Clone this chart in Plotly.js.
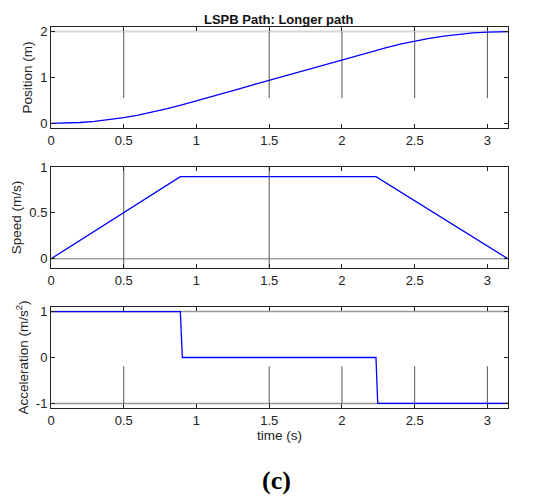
<!DOCTYPE html>
<html>
<head>
<meta charset="utf-8">
<script src="https://cdn.plot.ly/plotly-3.0.1.min.js"></script>
<style>html,body{margin:0;padding:0;background:#fff;}#chart{width:550px;height:498px;}</style>
</head>
<body>
<div id="chart"></div>
<script>
// Time samples (s) and position (m)
const timePos = [0,0.1,0.2,0.3,0.4,0.5,0.6,0.7,0.8,0.9,1.0,1.1,1.2,1.3,1.4,1.5,1.6,1.7,1.8,1.9,2.0,2.1,2.2,2.3,2.4,2.5,2.6,2.7,2.8,2.9,3.0,3.1,3.1416];
const position = [0,0.005,0.02,0.045,0.08,0.125,0.18,0.245,0.32,0.405,0.49,0.58,0.67,0.76,0.85,0.94,1.03,1.11,1.2,1.29,1.38,1.47,1.56,1.646,1.725,1.794,1.853,1.902,1.941,1.97,1.99,1.998,2.0];
// Speed (m/s)
const timeSpeed = [0,0.889,2.234,3.1416];
const speed = [0,0.895,0.895,0];
// Acceleration (m/s^2)
const timeAcc = [0,0.889,0.903,2.234,2.246,3.1416];
const accel = [1,1,0,0,-1,-1];
const xTicks = [0,0.5,1,1.5,2,2.5,3];
const xTickText = ['0','0.5','1','1.5','2','2.5','3'];
const posTicks = [0,1,2], posTickText = ['0','1','2'];
const speedTicks = [0,0.5,1], speedTickText = ['0','0.5','1'];
const accTicks = [-1,0,1], accTickText = ['-1','0','1'];

const W = 550, H = 498;
const dom = (top, bot) => [1 - bot / H, 1 - top / H];
const xDom = [51 / W, 508 / W];
const fam = 'Liberation Sans, Arial, sans-serif';
const tickFont = {family: fam, size: 13, color: '#222'};
const titleFont = {family: fam, size: 13.5, color: '#222'};
const line = {color: '#0000ff', width: 1.3};

function xaxis(anchor, title) {
  const a = {domain: xDom, anchor: anchor, range: [0, Math.PI], tickvals: xTicks, ticktext: xTickText,
    ticks: 'inside', ticklen: 4, tickcolor: '#222', mirror: 'ticks', showline: true, linecolor: '#222', linewidth: 1,
    showgrid: false, zeroline: false, tickfont: tickFont, fixedrange: true};
  if (title) a.title = {text: title, font: titleFont, standoff: 3};
  return a;
}
function yaxis(anchor, d, range, tv, tt, title) {
  return {domain: d, anchor: anchor, range: range, tickvals: tv, ticktext: tt, ticks: 'inside', ticklen: 4, tickcolor: '#222',
    mirror: 'ticks', showline: true, linecolor: '#222', linewidth: 1, showgrid: false, zeroline: false,
    tickfont: tickFont, title: {text: title, font: titleFont, standoff: 4}, fixedrange: true};
}

const traces = [
  {x: timePos, y: position, xaxis: 'x', yaxis: 'y', mode: 'lines', line: line, hoverinfo: 'none'},
  {x: timeSpeed, y: speed, xaxis: 'x2', yaxis: 'y2', mode: 'lines', line: line, hoverinfo: 'none'},
  {x: timeAcc, y: accel, xaxis: 'x3', yaxis: 'y3', mode: 'lines', line: line, hoverinfo: 'none'}
];

const shapes = [];
const gl = (xr, yr, x0, y0, x1, y1, c, w) => shapes.push({type: 'line', xref: xr, yref: yr, x0: x0, y0: y0, x1: x1, y1: y1, line: {color: c, width: w}, layer: 'below'});
// decorative partial grid lines seen in the picture
gl('x', 'y', 0, 2, Math.PI, 2, '#d8d8d8', 2);
[0.5, 1.5, 2, 2.5, 3].forEach(v => gl('x', 'y', v, 0.55, v, 2, '#555', 1));
gl('x2', 'y2', 0, 0, Math.PI, 0, '#777', 1);
[0.5, 1.5].forEach(v => gl('x2', 'y2', v, -0.1, v, 1, '#555', 1));
gl('x3', 'y3', 0, 1, Math.PI, 1, '#999', 1.5);
gl('x3', 'y3', 0, -1, Math.PI, -1, '#999', 1.5);
[0.5, 1.5, 2, 2.5, 3].forEach(v => gl('x3', 'y3', v, -1, v, -0.19, '#555', 1));

const layout = {
  width: W, height: H, margin: {l: 0, r: 0, t: 0, b: 0}, showlegend: false,
  paper_bgcolor: '#fff', plot_bgcolor: '#fff', font: tickFont,
  xaxis: xaxis('y'), yaxis: yaxis('x', dom(27, 128), [-0.1, 2.1], posTicks, posTickText, 'Position (m)'),
  xaxis2: xaxis('y2'), yaxis2: yaxis('x2', dom(167, 268), [-0.1, 1], speedTicks, speedTickText, 'Speed (m/s)'),
  xaxis3: xaxis('y3', 'time (s)'), yaxis3: yaxis('x3', dom(307, 408), [-1.1, 1.1], accTicks, accTickText, 'Acceleration (m/s<sup>2</sup>)'),
  shapes: shapes,
  annotations: [
    {text: '<b>LSPB Path: Longer path</b>', xref: 'paper', yref: 'paper', x: 279 / W, y: 1 - 19 / H, showarrow: false,
      font: {family: fam, size: 13, color: '#111'}, xanchor: 'center', yanchor: 'middle'},
    {text: '<b>(c)</b>', xref: 'paper', yref: 'paper', x: 276 / W, y: 1 - 480 / H, showarrow: false,
      font: {family: 'Liberation Serif, Times New Roman, serif', size: 26, color: '#000'}, xanchor: 'center', yanchor: 'middle'}
  ]
};
Plotly.newPlot('chart', traces, layout, {displayModeBar: false, staticPlot: true});
</script>
</body>
</html>
